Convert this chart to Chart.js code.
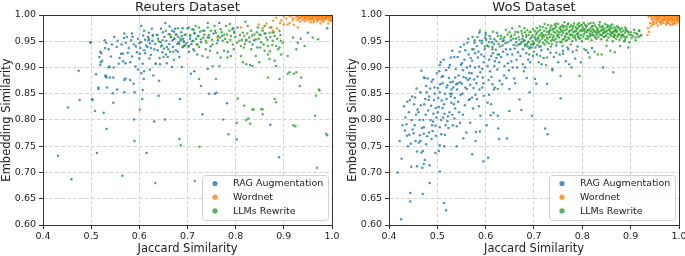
<!DOCTYPE html>
<html>
<head>
<meta charset="utf-8">
<script src="https://cdn.jsdelivr.net/npm/chart.js@4.4.1/dist/chart.umd.min.js"></script>
<style>
  html, body { margin: 0; padding: 0; background: #fff; overflow: hidden; }
  #wrap { position: relative; width: 685px; height: 256px; }
  .panel { position: absolute; top: 0; }
</style>
</head>
<body>
<div id="wrap">
  <div class="panel" style="left:0"><canvas id="reuters" width="340" height="256"></canvas></div>
  <div class="panel" style="left:340px"><canvas id="wos" width="345" height="256"></canvas></div>
</div>
<script>
// series names and colours (matplotlib tab10)
const seriesNames = ['RAG Augmentation', 'Wordnet', 'LLMs Rewrite'];
const seriesColors = ['rgba(31,119,180,0.8)', 'rgba(255,127,14,0.8)', 'rgba(44,160,44,0.8)'];

const xTicks = [0.4, 0.5, 0.6, 0.7, 0.8, 0.9, 1.0];
const xTickLabels = ['0.4', '0.5', '0.6', '0.7', '0.8', '0.9', '1.0'];
const yTicks = [0.60, 0.65, 0.70, 0.75, 0.80, 0.85, 0.90, 0.95, 1.00];
const yTickLabels = ['0.60', '0.65', '0.70', '0.75', '0.80', '0.85', '0.90', '0.95', '1.00'];

// Reuters dataset: [jaccard, embedding]
const reutersRag = [
  [.452,.824],[.474,.894],[.499,.947],[.476,.838],[.503,.838],[.526,.814],[.515,.859],[.519,.905],[.529,.937],[.531,.947],
  [.521,.927],[.541,.921],[.538,.902],[.547,.900],[.530,.885],[.532,.881],[.539,.881],[.546,.881],[.533,.862],[.545,.851],
  [.553,.939],[.557,.907],[.562,.926],[.568,.956],[.569,.965],[.566,.926],[.571,.908],[.576,.928],[.569,.876],[.569,.853],
  [.581,.876],[.585,.921],[.586,.958],[.588,.869],[.590,.853],[.592,.902],[.593,.940],[.595,.929],[.600,.917],[.601,.926],
  [.602,.937],[.604,.979],[.606,.840],[.607,.857],[.609,.878],[.610,.893],[.607,.907],[.610,.933],[.614,.942],[.617,.939],
  [.619,.952],[.621,.917],[.624,.924],[.626,.974],[.628,.962],[.629,.885],[.633,.945],[.634,.907],[.638,.933],[.640,.846],
  [.641,.875],[.643,.906],[.645,.974],[.647,.942],[.648,.929],[.652,.958],[.654,.985],[.657,.939],[.659,.920],[.662,.945],
  [.663,.978],[.666,.958],[.669,.952],[.670,.939],[.672,.968],[.674,.974],[.676,.933],[.679,.945],[.681,.958],[.683,.920],
  [.684,.840],[.686,.952],[.688,.901],[.690,.939],[.693,.949],[.695,.942],
  [.589,.801],[.631,.797],[.653,.801],[.532,.783],[.590,.760],[.683,.764],[.431,.732],[.512,.737],[.615,.737],[.459,.687],
  [.565,.694],[.731,.811],[.802,.795],[.872,.791],[.802,.763],[.890,.729],
  [.700,.975],[.705,.960],[.710,.950],[.712,.935],[.703,.930],[.715,.965],[.708,.945],[.718,.955],[.720,.925],[.702,.940],
  [.766,.985],[.795,.975],[.797,.968],[.742,.897],[.707,.888],[.714,.893],[.745,.850],[.757,.850],[.760,.852],[.782,.832],
  [.950,.966],[.990,.975],[.929,.947],[.935,.955],
  [.498,.948],[.519,.930],[.520,.910],[.536,.900],[.510,.887],[.530,.883],[.515,.862],[.502,.840],[.546,.833],[.508,.817],
  [.554,.858],[.571,.879],
  [.555,.951],[.563,.944],[.572,.947],[.578,.937],[.583,.952],[.589,.944],[.597,.955],[.603,.948],[.608,.961],[.612,.927],
  [.618,.958],[.622,.946],[.627,.951],[.631,.935],[.636,.962],[.639,.955],[.644,.948],[.649,.967],[.651,.936],[.656,.951],
  [.661,.964],[.664,.930],[.668,.970],[.673,.955],[.677,.962],[.682,.948],[.687,.967],[.691,.955],[.694,.962],[.698,.946],
  [.612,.953],[.624,.937],[.585,.965],[.574,.958],[.548,.958],[.543,.944],[.536,.935],[.528,.952],[.517,.920],[.523,.913],
  [.559,.918],[.566,.912],[.581,.910],[.597,.896],[.604,.889],[.642,.918],[.657,.908],[.672,.915],[.668,.901],[.622,.896],
  [.705,.955],[.713,.972],[.723,.960],[.728,.948],[.735,.970],[.742,.957],[.748,.940],[.754,.965],[.763,.952],[.772,.960],
  [.784,.930],[.822,.953],[.845,.938],[.860,.965],[.830,.905],[.690,.975],[.620,.966],[.655,.925],[.680,.930]
];
const reutersWordnet = [
  [.926,.996],[.928,.991],[.930,.998],[.932,.993],[.933,.987],[.935,.999],[.936,.995],[.938,.990],[.939,.997],[.941,.993],
  [.942,.999],[.944,.988],[.945,.996],[.946,.992],[.948,.999],[.949,.995],[.951,.990],[.952,.997],[.953,.994],[.955,.999],
  [.956,.986],[.957,.996],[.959,.992],[.960,.998],[.961,.995],[.963,.990],[.964,.999],[.965,.996],[.967,.993],[.968,.998],
  [.969,.988],[.970,.995],[.972,.999],[.973,.992],[.974,.997],[.975,.994],[.977,.999],[.978,.990],[.979,.996],[.980,.998],
  [.981,.993],[.983,.999],[.984,.996],[.985,.991],[.986,.998],[.987,.995],[.988,.999],[.989,.993],[.990,.997],[.991,.999],
  [.992,.995],[.993,.998],[.994,.990],[.995,.999],[.996,.996],[.997,.998],[.998,.994],[.999,.999],[.999,.997],[.998,.999],
  [.996,1.0],[.993,1.0],[.990,1.0],[.987,1.0],[.984,1.0],[.981,1.0],[.978,1.0],[.975,1.0],[.972,.998],[.969,1.0],
  [.966,.999],[.962,1.0],[.958,.998],[.954,1.0],[.950,.998],[.947,1.0],[.943,.997],[.940,1.0],[.937,.998],[.934,1.0],
  [.931,.995],[.929,.999],[.976,.984],[.982,.987],[.962,.986],[.992,.984],[.997,.988],[.985,.993],[.971,.991],[.958,.993],
  [.944,.994],[.955,.991],[.967,.997],[.979,.994],[.988,.996],[.995,.993],[.999,.991],
  [.900,.982],[.886,.975],[.876,.966],[.848,.982],[.878,.989],[.884,.995],[.908,.982],[.912,.985],[.929,.976],[.877,.970],
  [.811,.976],[.762,.957],[.871,.976],[.895,.990],[.905,.993],[.915,.997],[.918,.990],[.921,.981],[.892,.985],[.864,.984],
  [.900,.997],[.910,.999],[.920,.994],[.856,.975]
];
const reutersLlm = [
  [.703,.976],[.710,.973],[.714,.966],[.717,.979],[.721,.960],[.724,.976],[.728,.954],[.731,.970],[.735,.963],[.738,.951],
  [.742,.976],[.745,.957],[.749,.970],[.752,.944],[.756,.979],[.759,.966],[.763,.960],[.769,.973],[.773,.951],[.776,.963],
  [.780,.979],[.783,.948],[.787,.970],[.790,.960],[.794,.944],[.797,.966],[.804,.976],[.808,.951],[.811,.941],[.815,.966],
  [.818,.960],[.822,.951],[.825,.979],[.828,.957],[.832,.970],[.835,.944],[.839,.963],[.842,.954],[.846,.976],[.849,.963],
  [.853,.948],[.856,.970],[.860,.979],[.863,.957],[.867,.941],[.870,.966],[.874,.976],[.877,.951],[.881,.960],[.884,.941],
  [.888,.935],[.891,.970],[.894,.951],
  [.703,.941],[.714,.932],[.721,.944],[.731,.922],[.738,.935],[.742,.919],[.752,.903],[.766,.903],[.769,.919],[.776,.932],
  [.783,.919],[.790,.922],[.811,.922],[.815,.910],[.822,.906],[.832,.935],[.835,.903],[.842,.922],[.849,.910],[.860,.932],
  [.867,.925],[.870,.916],[.881,.913],[.884,.903],[.891,.938],[.894,.925],
  [.908,.922],[.919,.957],[.926,.935],[.943,.941],[.960,.957],[.971,.954],[.908,.888],[.912,.891],[.921,.888],[.926,.891],
  [.933,.865],[.936,.881],[.974,.856],[.967,.846],[.973,.858],
  [.724,.878],[.728,.865],[.759,.878],[.804,.841],[.818,.827],[.835,.820],[.853,.821],[.867,.881],[.881,.840],[.884,.834],
  [.891,.878],[.774,.801],[.822,.800],[.826,.803],[.837,.820],[.856,.820],[.856,.811],[.830,.793],[.924,.788],[.965,.808],
  [.785,.773],[.988,.774],[.725,.749],[.969,.709],[.715,.684],[.601,.820],[.686,.752],[.633,.680],[.920,.790],[.990,.771],
  [.600,.946],[.628,.960],[.638,.962],[.648,.952],[.664,.963],[.665,.958],[.672,.955],[.676,.964],[.683,.945],[.686,.955],
  [.690,.939],[.693,.942],[.696,.963],[.650,.920],[.634,.907],[.640,.950],[.655,.970],[.660,.935],[.670,.930],[.680,.975],
  [.688,.960],[.692,.950],[.645,.940],[.620,.955],[.610,.970],
  [.706,.962],[.712,.951],[.719,.944],[.726,.968],[.733,.957],[.739,.947],[.744,.962],[.751,.953],[.757,.970],[.761,.946],
  [.767,.957],[.771,.967],[.778,.955],[.782,.963],[.789,.953],[.793,.973],[.799,.958],[.803,.947],[.809,.962],[.813,.953],
  [.819,.945],[.824,.965],[.829,.949],[.834,.961],[.838,.952],[.844,.967],[.848,.955],[.852,.962],[.858,.944],[.862,.965],
  [.866,.953],[.872,.958],[.876,.943],[.879,.967],[.886,.955],[.893,.962],[.898,.947],[.724,.939],[.747,.932],[.762,.928],
  [.796,.935],[.817,.938],[.851,.938],[.871,.931],[.742,.985],[.788,.983],[.820,.987]
];

// WoS dataset
const wosRag = [
  [.418,.700],[.425,.611],[.426,.726],[.428,.790],[.431,.826],[.422,.760],
  [.434,.805],[.436,.792],[.437,.770],[.438,.835],[.439,.750],[.433,.780],
  [.442,.772],[.444,.661],[.444,.645],[.446,.711],[.443,.838],[.447,.800],[.449,.782],[.448,.845],[.445,.755],[.441,.815],
  [.453,.790],[.455,.760],[.458,.712],[.458,.740],[.454,.843],[.452,.830],[.456,.810],[.459,.820],[.451,.775],[.457,.860],
  [.465,.760],[.462,.757],[.467,.738],[.469,.709],[.465,.853],[.467,.894],[.463,.800],[.468,.785],[.461,.815],[.466,.828],[.464,.771],
  [.470,.659],[.470,.741],[.472,.716],[.474,.724],[.472,.786],[.472,.774],[.477,.754],[.474,.880],[.472,.881],[.478,.853],
  [.475,.840],[.471,.800],[.476,.810],[.479,.769],[.473,.830],[.477,.865],
  [.484,.714],[.484,.680],[.483,.776],[.488,.764],[.482,.838],[.480,.879],[.486,.800],[.481,.818],[.487,.827],[.489,.790],
  [.485,.860],[.483,.845],[.488,.873],
  [.490,.779],[.491,.877],[.493,.838],[.496,.737],[.496,.789],[.492,.812],[.495,.850],[.497,.823],[.498,.805],[.494,.862],
  [.499,.889],[.491,.797],[.497,.770],
  [.503,.741],[.505,.752],[.505,.702],[.505,.786],[.508,.773],[.505,.853],[.509,.837],[.505,.905],[.507,.910],[.501,.815],
  [.503,.825],[.506,.868],[.509,.882],[.502,.842],[.508,.800],[.504,.893],[.501,.861],
  [.514,.750],[.514,.642],[.518,.628],[.512,.884],[.514,.830],[.516,.850],[.519,.840],[.512,.805],[.515,.812],[.517,.790],
  [.511,.870],[.518,.895],[.513,.915],[.516,.772],[.519,.862],[.511,.823],
  [.523,.785],[.526,.850],[.524,.880],[.528,.919],[.522,.807],[.525,.815],[.529,.833],[.521,.866],[.527,.872],[.524,.900],
  [.528,.845],[.521,.798],[.526,.905],[.529,.858],
  [.532,.790],[.530,.850],[.533,.862],[.537,.881],[.535,.920],[.531,.810],[.534,.830],[.536,.842],[.538,.897],[.532,.873],
  [.539,.868],[.535,.803],[.537,.822],[.531,.932],
  [.540,.788],[.540,.750],[.547,.795],[.544,.885],[.547,.872],[.546,.930],[.542,.920],[.545,.815],[.541,.858],[.548,.848],
  [.543,.835],[.549,.905],[.542,.870],[.548,.939],
  [.554,.765],[.551,.869],[.554,.882],[.558,.862],[.551,.908],[.555,.944],[.553,.895],[.559,.880],[.552,.850],[.557,.828],
  [.556,.915],[.558,.933],[.553,.810],
  [.560,.776],[.568,.795],[.561,.859],[.565,.838],[.568,.867],[.568,.903],[.565,.925],[.562,.947],[.566,.890],[.563,.876],
  [.567,.840],[.569,.918],[.564,.955],[.561,.900],[.567,.879],
  [.572,.735],[.572,.843],[.575,.861],[.579,.760],[.575,.935],[.572,.913],[.578,.900],[.571,.889],[.576,.877],[.579,.848],
  [.573,.958],[.577,.947],[.574,.822],[.578,.927],
  [.580,.777],[.588,.778],[.589,.808],[.582,.840],[.586,.826],[.589,.891],[.586,.902],[.582,.941],[.587,.966],[.584,.919],
  [.581,.870],[.585,.930],[.588,.951],[.583,.883],[.587,.858],
  [.595,.721],[.593,.862],[.596,.846],[.593,.897],[.596,.910],[.598,.935],[.592,.946],[.597,.921],[.591,.925],[.594,.881],
  [.599,.956],[.595,.870],
  [.602,.790],[.605,.728],[.610,.809],[.604,.833],[.607,.848],[.611,.830],[.604,.903],[.607,.915],[.611,.922],[.600,.966],
  [.603,.942],[.609,.893],[.606,.876],[.601,.953],[.608,.960],
  [.616,.814],[.614,.868],[.618,.903],[.614,.939],[.618,.954],[.615,.927],[.612,.882],[.619,.912],[.617,.858],[.613,.948],
  [.628,.764],[.626,.784],[.625,.808],[.621,.934],[.625,.925],[.628,.910],[.623,.966],[.627,.945],[.624,.896],[.629,.875],[.622,.918],
  [.632,.920],[.635,.942],[.639,.903],[.636,.930],[.631,.955],[.638,.885],[.634,.868],[.637,.951],
  [.644,.765],[.649,.817],[.642,.935],[.646,.908],[.649,.859],[.645,.925],[.641,.946],[.648,.895],[.643,.880],
  [.653,.912],[.656,.900],[.651,.935],[.658,.943],[.655,.925],[.659,.879],[.652,.952],
  [.660,.936],[.663,.955],[.667,.929],[.661,.870],[.665,.900],[.669,.944],[.664,.915],
  [.674,.819],[.670,.839],[.674,.948],[.677,.935],[.672,.922],[.679,.893],[.676,.955],
  [.681,.944],[.684,.927],[.688,.915],[.682,.900],[.687,.940],[.685,.880],
  [.691,.853],[.695,.938],[.696,.808],[.698,.922],[.692,.910],[.699,.945],
  [.702,.878],[.705,.869],[.727,.869],[.738,.897],[.755,.841],[.773,.906],[.843,.900],[.797,.910],[.750,.910],[.723,.784],
  [.728,.773],[.706,.925],[.711,.940],[.715,.933],[.720,.918],[.729,.935],[.734,.928],[.741,.920],[.746,.942],[.753,.925],
  [.760,.932],[.766,.912],[.771,.935],[.780,.930],[.785,.917],[.790,.940],[.812,.928],[.808,.933],[.820,.937],[.716,.906],[.703,.955]
];
const wosWordnet = [
  [.936,.975],[.938,.968],[.935,.962],[.940,.985],[.942,.978],[.944,.992],[.937,.996],[.941,.999],[.946,.988],[.948,.995],
  [.947,.982],[.950,.999],[.951,.991],[.953,.985],[.954,.996],[.956,.980],[.957,.993],[.958,.999],[.960,.987],[.961,.995],
  [.962,.983],[.964,.998],[.965,.990],[.966,.994],[.968,.985],[.969,.999],[.970,.991],[.971,.996],[.973,.982],[.974,.988],
  [.975,.999],[.976,.993],[.977,.985],[.979,.997],[.980,.990],[.981,.994],[.982,.981],[.984,.999],[.985,.987],[.986,.995],
  [.987,.991],[.988,.984],[.989,.998],[.990,.993],[.991,.988],[.992,.997],[.993,.983],[.994,.995],[.995,.999],[.996,.990],
  [.997,.986],[.998,.996],[.999,.992],[.999,.999],[.998,.989],[.996,.997],[.994,1.0],[.991,.999],[.988,1.0],[.985,.998],
  [.982,1.0],[.979,.999],[.976,1.0],[.973,.997],[.970,1.0],[.967,.998],[.964,1.0],[.961,.999],[.958,.996],[.955,1.0],
  [.952,.997],[.949,1.0],[.945,.998],[.943,.996],[.983,.992],[.978,.994],[.972,.993],[.966,.989],[.959,.991],[.953,.992],
  [.987,.982],[.993,.991],[.997,.994],[.975,.985],[.963,.986],[.948,.986],[.990,.985],[.980,.984],[.968,.992],[.955,.988],
  [.944,.983],[.985,.996],[.977,.990]
];
const wosLlm = [
  [.680,.952],[.681,.967],[.682,.941],[.684,.958],[.685,.945],[.686,.971],[.688,.949],[.689,.962],[.690,.936],[.692,.955],
  [.693,.968],[.694,.944],[.696,.961],[.697,.950],[.698,.973],[.700,.946],[.701,.958],[.702,.969],[.703,.938],[.704,.963],
  [.705,.952],[.706,.975],[.707,.943],[.708,.957],[.709,.969],[.710,.948],[.711,.961],[.712,.951],[.713,.972],[.714,.940],
  [.715,.964],[.716,.966],[.717,.955],[.718,.977],[.719,.947],[.720,.959],[.721,.970],[.722,.944],[.723,.952],[.724,.962],
  [.725,.975],[.726,.949],[.727,.968],[.728,.955],[.729,.981],[.730,.946],[.731,.966],[.732,.969],[.733,.958],[.734,.976],
  [.735,.951],[.736,.963],[.737,.945],[.738,.972],[.739,.957],[.740,.974],[.741,.960],[.742,.952],[.743,.981],[.744,.966],
  [.745,.955],[.746,.978],[.747,.948],[.748,.970],[.749,.959],[.750,.983],[.751,.963],[.752,.957],[.753,.975],[.754,.949],
  [.755,.968],[.756,.972],[.757,.962],[.758,.980],[.759,.953],[.760,.966],[.761,.976],[.762,.955],[.763,.986],[.764,.960],
  [.765,.971],[.766,.951],[.767,.978],[.768,.974],[.769,.964],[.770,.982],[.771,.957],[.772,.968],[.773,.955],[.774,.977],
  [.775,.962],[.776,.963],[.777,.980],[.778,.971],[.779,.950],[.780,.975],[.781,.958],[.782,.967],[.783,.984],[.784,.969],
  [.785,.961],[.786,.977],[.787,.953],[.788,.973],[.789,.964],[.790,.982],[.791,.958],[.792,.966],[.793,.978],[.794,.955],
  [.795,.970],[.796,.980],[.797,.962],[.798,.972],[.799,.950],[.800,.969],[.801,.976],[.802,.959],[.803,.985],[.804,.964],
  [.805,.973],[.806,.981],[.807,.955],[.808,.977],[.809,.967],[.810,.960],[.811,.971],[.812,.972],[.813,.983],[.814,.958],
  [.815,.965],[.816,.961],[.817,.975],[.818,.969],[.819,.952],[.820,.978],[.821,.966],[.822,.973],[.823,.985],[.824,.970],
  [.825,.960],[.826,.980],[.827,.957],[.828,.966],[.829,.976],[.830,.963],[.831,.971],[.832,.974],[.833,.958],[.834,.968],
  [.835,.981],[.836,.963],[.837,.977],[.838,.970],[.839,.954],[.840,.971],[.841,.962],[.842,.979],[.843,.966],[.844,.958],
  [.845,.974],[.846,.967],[.847,.983],[.848,.969],[.849,.961],[.850,.976],[.851,.952],[.852,.965],[.853,.978],[.854,.957],
  [.855,.972],[.856,.973],[.857,.963],[.858,.969],[.859,.980],[.860,.960],[.861,.975],[.862,.966],[.863,.950],[.864,.968],
  [.865,.958],[.866,.976],[.867,.971],[.868,.962],[.869,.973],[.870,.955],[.871,.967],[.872,.970],[.873,.959],[.874,.977],
  [.876,.964],[.877,.953],[.878,.972],[.880,.968],[.881,.957],[.882,.975],[.884,.961],[.885,.970],[.886,.950],[.888,.966],
  [.889,.955],[.890,.973],[.892,.958],[.893,.969],[.896,.963],[.897,.948],[.900,.967],[.902,.956],[.905,.960],[.907,.972],
  [.910,.952],[.912,.965],[.916,.958],[.918,.970],[.922,.962],
  [.733,.971],[.757,.948],[.781,.979],[.806,.968],[.829,.955],[.852,.981],[.874,.962],[.719,.962],[.745,.984],[.768,.952],
  [.792,.961],[.817,.985],[.843,.972],[.866,.958],[.889,.976],[.727,.957],[.751,.967],[.774,.970],[.799,.981],[.822,.962],
  [.847,.959],[.871,.978],[.706,.966],[.738,.953],[.762,.979],[.787,.969],[.811,.955],[.836,.986],[.859,.965],[.883,.963],
  [.712,.978],[.741,.968],[.765,.958],[.790,.975],[.814,.971],[.839,.962],[.862,.982],[.887,.959],[.722,.983],[.748,.962],
  [.771,.984],[.796,.956],[.821,.979],[.845,.966],[.868,.969],[.895,.967],[.730,.963],[.755,.977],[.779,.962],[.803,.972],
  [.827,.968],[.851,.970],[.876,.975],[.716,.959],[.743,.975],[.767,.965],[.793,.985],[.818,.962],[.841,.976],[.865,.963],
  [.891,.970],[.709,.955],[.736,.980],[.760,.970],[.785,.956],[.809,.979],[.833,.967],[.857,.977],[.880,.961],[.901,.962],
  [.908,.966],[.914,.963],
  [.713,.922],[.727,.919],[.759,.941],[.769,.938],[.776,.944],[.804,.935],[.815,.919],[.832,.925],[.850,.941],[.867,.929],
  [.878,.941],[.888,.951],[.895,.938],[.910,.957],[.917,.970],[.920,.960],[.755,.884],[.794,.884],[.864,.891],[.788,.933],
  [.746,.928],[.735,.940],[.825,.930],[.858,.932],[.840,.925],[.700,.930],[.710,.910],[.760,.926],[.725,.905],[.690,.925],
  [.738,.895],[.619,.862],[.778,.900],
  [.588,.970],[.593,.951],[.572,.935],[.625,.960],[.632,.960],[.639,.958],[.646,.948],[.649,.967],[.653,.961],[.660,.963],
  [.667,.967],[.674,.970],[.677,.960],[.681,.951],[.688,.948],[.691,.967],[.695,.957],[.698,.944],[.628,.925],[.677,.906],
  [.625,.859],[.610,.955],[.617,.945],[.635,.950],[.657,.955],[.664,.942],[.670,.953],[.684,.962],[.692,.938],[.600,.962],
  [.615,.968],[.642,.972],[.606,.940],[.680,.975],[.670,.978],[.655,.975],[.662,.968],[.668,.958],[.672,.945],[.675,.965],
  [.678,.950],[.663,.948],[.652,.958],[.645,.963],[.637,.955],[.630,.940],[.622,.950],[.614,.935],[.607,.948],[.598,.940],
  [.583,.958],[.577,.952]
];

const FONT = 'DejaVu Sans';

const framePlugin = {
  id: 'frameLegend',
  afterDraw(chart) {
    const ctx = chart.ctx;
    const a = chart.chartArea;
    ctx.save();
    // box round the plot
    ctx.strokeStyle = '#333';
    ctx.lineWidth = 1;
    const l = Math.floor(a.left) + 0.5, t = Math.floor(a.top) + 0.5;
    const r = Math.floor(a.right) + 0.5, b = Math.floor(a.bottom) + 0.5;
    ctx.strokeRect(l, t, r - l, b - t);
    // title
    ctx.fillStyle = '#222';
    ctx.font = '13px "' + FONT + '"';
    ctx.textAlign = 'center';
    ctx.textBaseline = 'alphabetic';
    ctx.fillText(chart.options.plugins.frameLegend.title, (a.left + a.right) / 2, 10.5);
    // legend
    const w = 126, h = 45;
    const bx = a.right - 4 - w, by = a.bottom - 5 - h;
    ctx.beginPath();
    ctx.roundRect(bx + 0.5, by + 0.5, w, h, 3);
    ctx.fillStyle = 'rgba(255,255,255,0.8)';
    ctx.fill();
    ctx.strokeStyle = '#d0d0d0';
    ctx.stroke();
    ctx.font = '9.5px "' + FONT + '"';
    ctx.textAlign = 'left';
    ctx.textBaseline = 'middle';
    seriesNames.forEach((name, i) => {
      const cy = by + 8.5 + i * 13.7;
      ctx.beginPath();
      ctx.arc(bx + 13, cy, 2.6, 0, Math.PI * 2);
      ctx.fillStyle = seriesColors[i];
      ctx.fill();
      ctx.fillStyle = '#222';
      ctx.fillText(name, bx + 31, cy + 0.5);
    });
    ctx.restore();
  }
};

function makeChart(id, title, rag, wordnet, llm, padL, padR) {
  const sets = [rag, wordnet, llm];
  return new Chart(document.getElementById(id), {
    type: 'scatter',
    data: {
      datasets: sets.map((pts, i) => ({
        label: seriesNames[i],
        data: pts.map(p => ({ x: p[0], y: p[1] })),
        backgroundColor: seriesColors[i],
        pointRadius: 1.25,
        pointBorderWidth: 0,
        pointHoverRadius: 1.25,
        order: 2 - i
      }))
    },
    options: {
      responsive: false,
      animation: false,
      devicePixelRatio: 1,
      events: [],
      layout: { padding: { left: padL, right: padR, top: 15, bottom: 0 } },
      plugins: {
        legend: { display: false },
        tooltip: { enabled: false },
        frameLegend: { title: title }
      },
      scales: {
        x: {
          type: 'linear', min: 0.4, max: 1.0,
          afterBuildTicks: s => { s.ticks = xTicks.map(v => ({ value: v })); },
          afterFit: s => { s.height = 31; s.paddingLeft = 0; s.paddingRight = 0; },
          grid: { color: '#d4d4d4', lineWidth: 1, tickLength: 4, tickColor: '#333', tickWidth: 1, tickBorderDash: [] },
          border: { display: false, dash: [4, 2] },
          ticks: {
            color: '#222', font: { family: FONT, size: 9.5 }, padding: 2,
            maxRotation: 0, autoSkip: false,
            callback: (v, i) => xTickLabels[i]
          },
          title: {
            display: true, text: 'Jaccard Similarity', color: '#222',
            font: { family: FONT, size: 11.5 }, padding: { top: 0, bottom: 0 }
          }
        },
        y: {
          type: 'linear', min: 0.6, max: 1.0,
          afterBuildTicks: s => { s.ticks = yTicks.map(v => ({ value: v })); },
          afterFit: s => { s.width = 43; },
          grid: { color: '#d4d4d4', lineWidth: 1, tickLength: 4, tickColor: '#333', tickWidth: 1, tickBorderDash: [] },
          border: { display: false, dash: [4, 2] },
          ticks: {
            color: '#222', font: { family: FONT, size: 9.5 }, padding: 3,
            autoSkip: false,
            callback: (v, i) => yTickLabels[i]
          },
          title: {
            display: true, text: 'Embedding Similarity', color: '#222',
            font: { family: FONT, size: 11.5 }, padding: { top: 0.5, bottom: 0 }
          }
        }
      }
    },
    plugins: [framePlugin]
  });
}

makeChart('reuters', 'Reuters Dataset', reutersRag, reutersWordnet, reutersLlm, 0, 8);
makeChart('wos', 'WoS Dataset', wosRag, wosWordnet, wosLlm, 6, 6);
</script>
</body>
</html>
